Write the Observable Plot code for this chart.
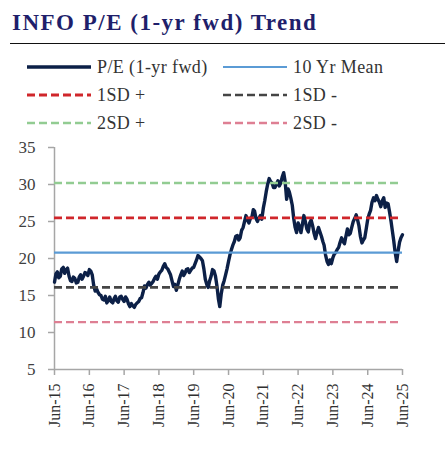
<!DOCTYPE html>
<html>
<head>
<meta charset="utf-8">
<script src="https://cdn.jsdelivr.net/npm/d3@7"></script>
<script src="https://cdn.jsdelivr.net/npm/@observablehq/plot@0.6"></script>
<style>
  body { margin: 0; background: #fff; width: 445px; height: 449px; position: relative; overflow: hidden; }
  #title { position: absolute; left: 12px; top: 10px; font: bold 23px "Liberation Serif", serif; letter-spacing: 1.5px; color: #1f1f6b; }
  #rule { position: absolute; left: 10px; right: 0; top: 43px; border-top: 1.5px solid #111; }
  #legend { position: absolute; left: 0; top: 50px; }
  #chart { position: absolute; left: 0; top: 140px; }
</style>
</head>
<body>
<div id="title">INFO P/E (1-yr fwd) Trend</div>
<div id="rule"></div>
<div id="legend"></div>
<div id="chart"></div>
<script>
// half-monthly P/E readings, Jun-15 .. Jun-25
const startMonth = new Date(Date.UTC(2015, 5, 1))
const peValues = [
  16.8, 17.9, 18.2, 17.4, 17.6, 18.6, 18.8, 18.0, 18.5, 18.7, 17.6, 17.0,
  16.9, 17.5, 17.3, 16.7, 16.8, 17.5, 17.8, 17.2, 17.6, 18.1, 18.0, 17.7,
  18.5, 18.3, 17.8, 16.4, 15.6, 15.9, 15.4, 15.1, 15.0, 14.5, 14.4, 14.9,
  14.0, 14.3, 14.8, 14.2, 14.0, 14.6, 14.9, 14.3, 14.1, 14.8, 14.9, 14.5,
  14.2, 14.8, 14.5, 13.9, 13.5, 13.9, 13.6, 13.4, 13.8, 14.0, 14.2, 14.6,
  14.7, 15.4, 16.3, 16.0, 16.5, 16.8, 16.4, 16.6, 16.9, 17.3, 17.6, 17.2,
  17.9, 18.2, 18.4, 18.9, 19.3, 18.8, 18.6, 18.2, 17.8, 17.0, 16.2, 16.5,
  15.7, 16.4, 17.2, 17.8, 18.3, 17.7, 18.0, 18.5, 18.6, 18.1, 18.4, 18.7,
  18.8, 19.3, 19.8, 20.4, 20.2, 20.0, 19.7, 18.6, 17.2, 16.5, 16.1, 17.0,
  17.6, 18.5, 18.3, 17.6, 16.2, 14.5, 13.5, 15.2, 16.4, 17.0, 17.8, 18.6,
  19.6, 20.5, 21.2, 21.8, 22.3, 23.0, 23.1, 22.5, 22.8, 23.8, 24.2, 25.0,
  25.8, 25.2, 24.8, 25.4, 25.6, 26.6, 26.4, 25.4, 25.0, 25.5, 25.8, 25.3,
  26.8, 27.8, 29.0, 30.0, 30.8, 30.4, 30.2, 29.6, 29.6, 30.0, 30.5, 29.8,
  30.2, 31.0, 31.6, 30.4, 28.0, 29.4, 29.0, 28.2, 27.2, 25.4, 24.2, 23.5,
  24.8, 24.3, 23.5, 24.6, 25.8, 25.0, 24.0, 23.6, 24.8, 25.2, 24.4, 23.4,
  22.7, 23.5, 24.2, 23.6, 23.0, 22.3, 21.8, 20.5, 19.6, 19.2, 19.8, 19.3,
  20.1, 20.6, 20.8, 21.2, 21.5, 22.2, 22.8, 22.3, 22.0, 23.0, 24.0, 23.2,
  23.4, 24.2, 25.0, 25.4, 25.9, 25.2, 24.4, 23.0, 22.1, 22.5, 22.8, 24.0,
  25.3, 26.0, 26.5, 27.6, 28.2, 27.8, 28.5, 28.0, 27.6, 27.0, 27.8, 28.2,
  26.9, 27.5, 27.4, 26.3, 25.0, 23.6, 22.4, 20.8, 19.6, 21.0, 22.2, 22.8,
  23.2
]

const bandNames = ["10 Yr Mean", "1SD +", "1SD -", "2SD +", "2SD -"]
const bandValues = [20.8, 25.5, 16.1, 30.2, 11.4]

const yTicks = [5, 10, 15, 20, 25, 30, 35]
const xTickYears = [2015, 2016, 2017, 2018, 2019, 2020, 2021, 2022, 2023, 2024, 2025]

const lineName = "P/E (1-yr fwd)"
const legendOrder = [lineName, "10 Yr Mean", "1SD +", "1SD -", "2SD +", "2SD -"]

const styles = {
  "P/E (1-yr fwd)": { stroke: "#0c2047", width: 3.4, dash: null },
  "10 Yr Mean": { stroke: "#5b9bd5", width: 2.2, dash: null },
  "1SD +": { stroke: "#d0262b", width: 2.8, dash: "8,4" },
  "1SD -": { stroke: "#454545", width: 2.6, dash: "8,4" },
  "2SD +": { stroke: "#92cc92", width: 2.4, dash: "8,4" },
  "2SD -": { stroke: "#de7f93", width: 2.4, dash: "8,4" }
}

// index i -> first of month (even) or the 16th (odd)
const pe = peValues.map((v, i) => {
  const m = d3.utcMonth.offset(startMonth, Math.floor(i / 2))
  return { date: i % 2 ? d3.utcDay.offset(m, 15) : m, value: v }
})
const bands = bandNames.map((n, i) => ({ name: n, value: bandValues[i] }))
const xTicks = xTickYears.map(y => new Date(Date.UTC(y, 5, 1)))

const font = '"Liberation Serif", serif'

const chart = Plot.plot({
  width: 445,
  height: 309,
  marginTop: 7,
  marginBottom: 80,
  marginLeft: 54,
  marginRight: 43,
  style: { fontFamily: font, fontSize: "17px", background: "transparent", overflow: "visible" },
  x: { type: "utc", domain: [xTicks[0], xTicks[xTicks.length - 1]] },
  y: { domain: [5, 35] },
  marks: [
    Plot.axisY({ ticks: yTicks, tickSize: 6, tickPadding: 13, label: null,
      stroke: "#a6a6a6", strokeWidth: 1.5, fill: "#404040", fontSize: 17 }),
    Plot.axisX({ ticks: xTicks, tickSize: 6, tickPadding: 8, label: null, tickRotate: -90,
      tickFormat: d3.utcFormat("%b-%y"), stroke: "#a6a6a6", strokeWidth: 1.5, fill: "#303030", fontSize: 16 }),
    Plot.ruleX([xTicks[0]], { stroke: "#a6a6a6", strokeWidth: 1.5 }),
    Plot.ruleY([5], { stroke: "#a6a6a6", strokeWidth: 1.5 }),
    Plot.line(pe, { x: "date", y: "value", stroke: styles[lineName].stroke,
      strokeWidth: styles[lineName].width, strokeLinejoin: "round" }),
    ...bands.map(b => Plot.ruleY([b.value], {
      stroke: styles[b.name].stroke, strokeWidth: styles[b.name].width,
      strokeDasharray: styles[b.name].dash
    }))
  ]
})
d3.select("#chart").append(() => chart)

// legend, two columns
const leg = d3.select("#legend").append("svg").attr("width", 445).attr("height", 88)
  .style("font-family", font).style("font-size", "18px").style("letter-spacing", "0.4px")
legendOrder.forEach((name, i) => {
  const col = i % 2, row = Math.floor(i / 2)
  const x0 = col ? 223 : 27
  const y0 = 17 + row * 28
  const s = styles[name]
  leg.append("line").attr("x1", x0).attr("x2", x0 + 64).attr("y1", y0).attr("y2", y0)
    .attr("stroke", s.stroke).attr("stroke-width", s.width)
    .attr("stroke-dasharray", s.dash)
  leg.append("text").attr("x", x0 + 70).attr("y", y0).attr("dy", "0.35em")
    .attr("fill", "#333").text(name)
})
</script>
</body>
</html>
